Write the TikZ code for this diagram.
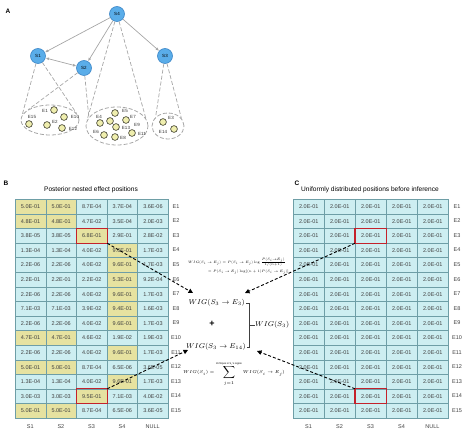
\documentclass[tikz,border=0pt]{standalone}
\usepackage[no-math]{fontspec}
\usepackage{graphicx}
\setmainfont{Liberation Sans}
\usetikzlibrary{arrows.meta,shapes.geometric,calc}
\definecolor{sblue}{HTML}{5AADE9}
\definecolor{sbord}{HTML}{3C87C8}
\definecolor{eyel}{HTML}{EFEEAE}
\definecolor{eyelb}{HTML}{3A3A2A}
\definecolor{gline}{HTML}{A6A6A6}
\definecolor{ccyan}{HTML}{CDEEF1}
\definecolor{cyel}{HTML}{E6E2A0}
\definecolor{cbord}{HTML}{6E9EA6}
\definecolor{rbox}{HTML}{C4222B}
\begin{document}
\begin{tikzpicture}[x=1pt,y=-1pt,
 snode/.style={circle,fill=sblue,draw=sbord,line width=0.6pt,minimum size=15pt,inner sep=0pt,font=\fontsize{4.5}{5}\selectfont},
 enode/.style={circle,fill=eyel,draw=eyelb,line width=0.6pt,minimum size=6.8pt,inner sep=0pt},
 elab/.style={font=\fontsize{4.5}{5}\selectfont,text=black!80,inner sep=0pt},
 gedge/.style={draw=gline,line width=0.7pt,-{Latex[length=3.5pt,width=3pt]}},
 cone/.style={draw=gline,line width=0.7pt,dash pattern=on 4pt off 2pt},
 ell/.style={ellipse,draw=gline,line width=0.8pt,dash pattern=on 4pt off 2pt,inner sep=0pt},
 cell/.style={draw=cbord,line width=0.5pt,minimum height=14.6pt,inner sep=0pt,anchor=north west,font=\fontsize{5.5}{6}\selectfont,text=black!75},
 rowlab/.style={font=\fontsize{5.5}{6}\selectfont,text=black!75,inner sep=0pt},
 title/.style={font=\fontsize{6.6}{8}\selectfont,inner sep=0pt},
 panel/.style={font=\fontsize{6.5}{8}\selectfont\bfseries,inner sep=0pt},
 redbox/.style={draw=rbox,line width=1.1pt},
 dasharrow/.style={draw=black,line width=0.9pt,dash pattern=on 3pt off 2pt,-{Triangle[length=4.5pt,width=4.5pt]}},
 fmath/.style={font=\fontsize{7}{8}\selectfont,inner sep=0pt},
 smallmath/.style={font=\fontsize{5}{6}\selectfont,inner sep=0pt,anchor=west},
 brk/.style={draw=black!75,line width=0.5pt}
]
\useasboundingbox (0,0) rectangle (474,433);

% ---------- Panel A ----------
\node[panel] (lA) at (8,11) {A};
\node[snode] (s4) at (117,14) {S4};
\node[snode] (s1) at (38,56) {S1};
\node[snode] (s2) at (84,68) {S2};
\node[snode] (s3) at (165,56) {S3};
\node[ell,minimum width=58pt,minimum height=30pt] (el1) at (50,120) {};
\node[ell,minimum width=62pt,minimum height=38pt] (el2) at (117,126) {};
\node[ell,minimum width=32pt,minimum height=26pt] (el3) at (168,126) {};
\draw[gedge] (s4) -- (s1);
\draw[gedge] (s4) -- (s2);
\draw[gedge] (s4) -- (s3);
\draw[gedge,{Latex[length=3.5pt,width=3pt]}-{Latex[length=3.5pt,width=3pt]}] (s1) -- (s2);
\draw[cone] (s1) -- (el1.170);
\draw[cone] (s1) -- (el1.14);
\draw[cone] (s2) -- (el1.155);
\draw[cone] (s2) -- (el2.163);
\draw[cone] (s4) -- (el2.169);
\draw[cone] (s4) -- (el2.15);
\draw[cone] (s3) -- (el3.145);
\draw[cone] (s3) -- (el3.30);
% effects
\node[enode] (e1) at (54,110) {};   \node[elab] (le1) at (45,111) {E1};
\node[enode] (e10) at (64,117) {};  \node[elab] (le10) at (75,117) {E10};
\node[enode] (e15) at (29,124) {};  \node[elab] (le15) at (32,117) {E15};
\node[enode] (e2) at (47,125) {};   \node[elab] (le2) at (55,122) {E2};
\node[enode] (e12) at (62,128) {};  \node[elab] (le12) at (73,129) {E12};
\node[enode] (e5) at (115,113) {};  \node[elab] (le5) at (125,111) {E5};
\node[enode] (e4) at (100,123) {};  \node[elab] (le4) at (99,117) {E4};
\node[enode] (e9) at (110,121) {};  \node[elab] (le9) at (137,125) {E9};
\node[enode] (e7) at (126,120) {};  \node[elab] (le7) at (133,117) {E7};
\node[enode] (e13) at (116,127) {}; \node[elab] (le13) at (126,128) {E13};
\node[enode] (e6) at (104,135) {};  \node[elab] (le6) at (96,132) {E6};
\node[enode] (e8) at (115,137) {};  \node[elab] (le8) at (123,138) {E8};
\node[enode] (e11) at (132,133) {}; \node[elab] (le11) at (142,134) {E11};
\node[enode] (e3) at (163,122) {};  \node[elab] (le3) at (171,118) {E3};
\node[enode] (e14) at (174,129) {}; \node[elab] (le14) at (163,132) {E14};

% ---------- Panel B ----------
\node[panel] (lB) at (6,183) {B};
\node[title] (tB) at (91,190) {Posterior nested effect positions};
\foreach \row [count=\r] in {
{5.0E-01/cyel,5.0E-01/cyel,8.7E-04/ccyan,3.7E-04/ccyan,3.6E-06/ccyan},
{4.8E-01/cyel,4.8E-01/cyel,4.7E-02/ccyan,3.5E-04/ccyan,2.0E-03/ccyan},
{3.8E-05/ccyan,3.8E-05/ccyan,6.8E-01/cyel,2.9E-01/ccyan,2.8E-02/ccyan},
{1.3E-04/ccyan,1.3E-04/ccyan,4.0E-02/ccyan,9.6E-01/cyel,1.7E-03/ccyan},
{2.2E-06/ccyan,2.2E-06/ccyan,4.0E-02/ccyan,9.6E-01/cyel,1.7E-03/ccyan},
{2.2E-01/ccyan,2.2E-01/ccyan,2.2E-02/ccyan,5.3E-01/cyel,9.2E-04/ccyan},
{2.2E-06/ccyan,2.2E-06/ccyan,4.0E-02/ccyan,9.6E-01/cyel,1.7E-03/ccyan},
{7.1E-03/ccyan,7.1E-03/ccyan,3.9E-02/ccyan,9.4E-01/cyel,1.6E-03/ccyan},
{2.2E-06/ccyan,2.2E-06/ccyan,4.0E-02/ccyan,9.6E-01/cyel,1.7E-03/ccyan},
{4.7E-01/cyel,4.7E-01/cyel,4.6E-02/ccyan,1.9E-02/ccyan,1.9E-03/ccyan},
{2.2E-06/ccyan,2.2E-06/ccyan,4.0E-02/ccyan,9.6E-01/cyel,1.7E-03/ccyan},
{5.0E-01/cyel,5.0E-01/cyel,8.7E-04/ccyan,6.5E-06/ccyan,3.6E-05/ccyan},
{1.3E-04/ccyan,1.3E-04/ccyan,4.0E-02/ccyan,9.6E-01/cyel,1.7E-03/ccyan},
{3.0E-03/ccyan,3.0E-03/ccyan,9.5E-01/cyel,7.1E-03/ccyan,4.0E-02/ccyan},
{5.0E-01/cyel,5.0E-01/cyel,8.7E-04/ccyan,6.5E-06/ccyan,3.6E-05/ccyan}}{
  \foreach \val/\colr [count=\c] in \row {
    \node[cell,minimum width=30.6pt,fill=\colr] (b-\r-\c) at ({15+(\c-1)*30.6},{199+(\r-1)*14.6}) {\val};
  }
  \node[rowlab] (eb-\r) at (176,{199+(\r-0.5)*14.6}) {E\r};
}
\foreach \lab [count=\c] in {S1,S2,S3,S4,NULL}{
  \node[rowlab] (sb-\c) at ({15+(\c-0.5)*30.6},427) {\lab};
}
\draw[redbox] (b-3-3.north west) rectangle (b-3-3.south east);
\draw[redbox] (b-14-3.north west) rectangle (b-14-3.south east);

% ---------- Panel C ----------
\node[panel] (lC) at (297,183) {C};
\node[title] (tC) at (370,190) {Uniformly distributed positions before inference};
\foreach \r in {1,...,15}{
  \foreach \c in {1,...,5}{
    \node[cell,minimum width=31pt,fill=ccyan] (c-\r-\c) at ({293+(\c-1)*31},{199+(\r-1)*14.6}) {2.0E-01};
  }
  \node[rowlab] (ec-\r) at (457,{199+(\r-0.5)*14.6}) {E\r};
}
\foreach \lab [count=\c] in {S1,S2,S3,S4,NULL}{
  \node[rowlab] (sc-\c) at ({293+(\c-0.5)*31},427) {\lab};
}
\draw[redbox] (c-3-3.north west) rectangle (c-3-3.south east);
\draw[redbox] (c-14-3.north west) rectangle (c-14-3.south east);

% ---------- Formulas ----------
\node[smallmath] (ft1) at (188,262)
  {\scalebox{0.68}{$WIG(S_i\rightarrow E_j)=P(S_i\rightarrow E_j)\log\frac{P(S_i\rightarrow E_j)}{1/(n+1)}$}};
\node[smallmath] (ft2) at (208,272)
  {\scalebox{0.68}{$=P(S_i\rightarrow E_j)\log[(n+1)P(S_i\rightarrow E_j)]$}};
\node[fmath,anchor=east] (f1) at (245,303) {$WIG(S_3\rightarrow E_3)$};
\node[fmath,anchor=east] (f2) at (246,347) {$WIG(S_3\rightarrow E_{14})$};
\node[font=\fontsize{9}{10}\selectfont\bfseries,inner sep=0pt] (plus) at (212,324) {+};
\coordinate (br) at (249,325);
\node[fmath,anchor=west] (wig) at (255,325) {$WIG(S_3)$};
\draw[brk] ([xshift=1pt]f1.east) -- (f1.east -| br) -- (f2.east -| br) -- ([xshift=1pt]f2.east);
\draw[brk] (br) -- (wig.west);
\node[font=\fontsize{5}{6}\selectfont,inner sep=0pt,anchor=west] (fb) at (183,374)
  {\scalebox{0.86}{$WIG(S_i)=\displaystyle\sum_{j=1}^{\hbox{\fontsize{3}{3}\selectfont\#of Epos in S\textsubscript{i}'s region}} WIG(S_i\rightarrow E_j)$}};

% ---------- Dashed arrows ----------
\coordinate (a1) at (193,293);
\coordinate (a2) at (245,293);
\coordinate (a3) at (188,350);
\coordinate (a4) at (257,351);
\draw[dasharrow] (b-3-3.south east) -- (a1);
\draw[dasharrow] (c-3-3.south west) -- (a2);
\draw[dasharrow] (b-14-3.north east) -- (a3);
\draw[dasharrow] (c-14-3.north west) -- (a4);
\end{tikzpicture}
\end{document}
